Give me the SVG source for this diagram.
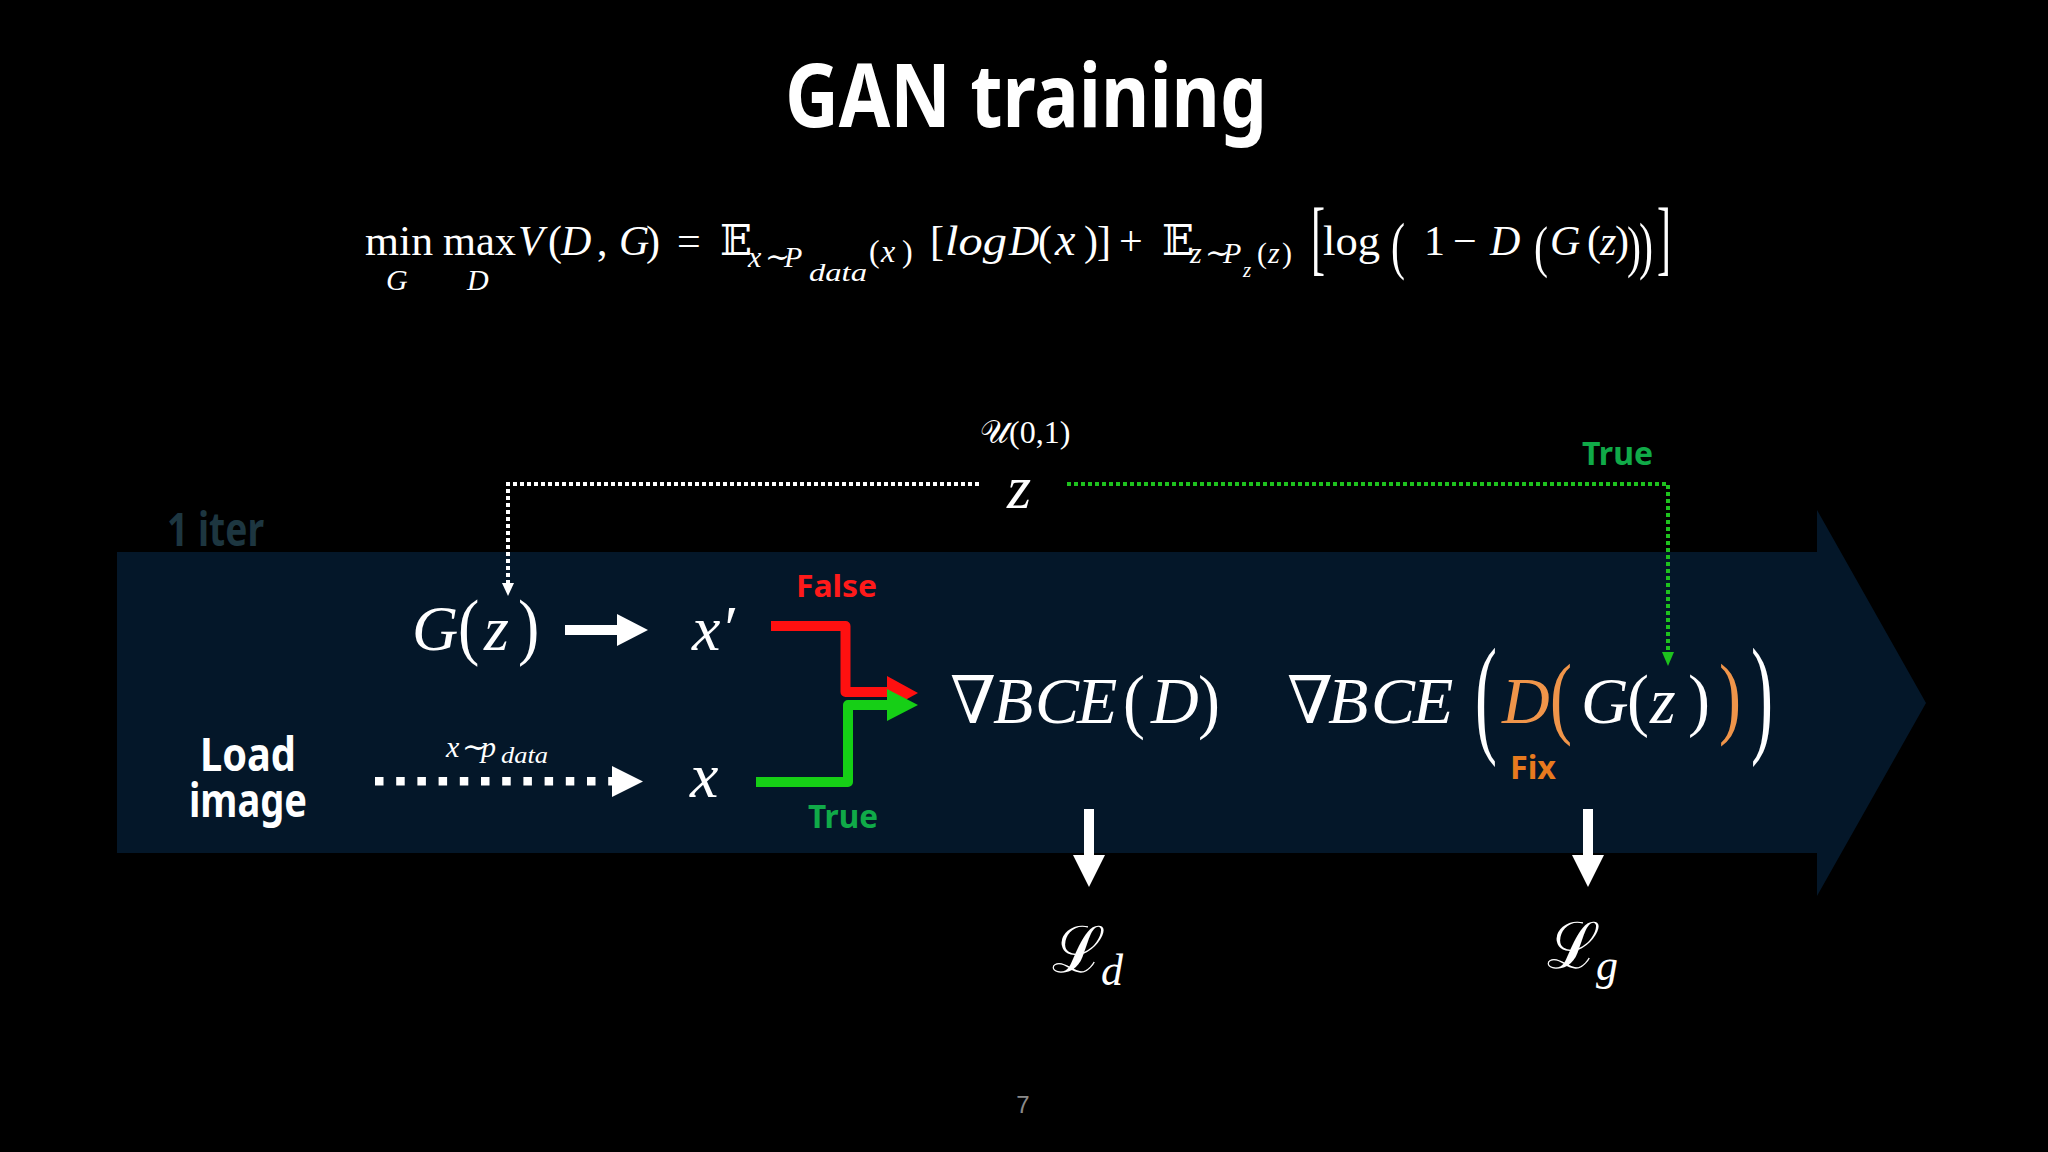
<svg xmlns="http://www.w3.org/2000/svg" width="2048" height="1152" viewBox="0 0 2048 1152">
  <style>
    .m { font-family: "Liberation Serif", "DejaVu Serif", serif; fill: #ffffff; }
    .i { font-style: italic; }
    .lbl { font-family: "Noto Sans", "Liberation Sans", sans-serif; font-weight: 700; }
    .org { fill: #f0954a; }
    .dotw { fill: none; stroke: #ffffff; stroke-width: 4; stroke-dasharray: 4 3; }
    .dotg { fill: none; stroke: #1ec21e; stroke-width: 4; stroke-dasharray: 4 3; }
  </style>
  <rect x="0" y="0" width="2048" height="1152" fill="#000000"/>

  <g id="title">
    <text class="lbl" x="785" y="127" font-size="88" fill="#ffffff" textLength="482" lengthAdjust="spacingAndGlyphs">GAN training</text>
  </g>

  <g id="equation" class="m" font-size="42">
    <text x="365" y="255" textLength="68" lengthAdjust="spacingAndGlyphs">min</text>
    <text x="443" y="255" textLength="73" lengthAdjust="spacingAndGlyphs">max</text>
    <text class="i" x="386" y="290" font-size="30">G</text>
    <text class="i" x="467" y="290" font-size="30">D</text>
    <text y="255"><tspan class="i" x="518">V</tspan><tspan x="548">(</tspan><tspan class="i" x="561">D</tspan><tspan x="597">,</tspan><tspan class="i" x="619">G</tspan><tspan x="646">)</tspan></text>
    <text x="677" y="255">=</text>
    <text x="720" y="255">𝔼</text>
    <text y="267" font-size="30"><tspan class="i" x="748">x</tspan><tspan x="765">∼</tspan><tspan class="i" x="784">P</tspan></text>
    <text class="i" x="809" y="281" font-size="25" textLength="58" lengthAdjust="spacingAndGlyphs">data</text>
    <text y="262" font-size="32"><tspan x="869">(</tspan><tspan class="i" x="881">x</tspan><tspan x="902">)</tspan></text>
    <text y="255"><tspan x="930">[</tspan></text>
    <text class="i" x="945" y="255" textLength="62" lengthAdjust="spacingAndGlyphs">log</text>
    <text y="255"><tspan class="i" x="1009">D</tspan><tspan x="1038">(</tspan></text>
    <text class="i" x="1055" y="255" font-size="46">x</text>
    <text y="255"><tspan x="1084">)</tspan><tspan x="1097">]</tspan></text>
    <text x="1119" y="255">+</text>
    <text x="1162" y="255">𝔼</text>
    <text y="263" font-size="30"><tspan class="i" x="1190">z</tspan><tspan x="1205">∼</tspan><tspan class="i" x="1223">P</tspan></text>
    <text class="i" x="1243" y="277" font-size="21">z</text>
    <text y="263" font-size="30"><tspan x="1257">(</tspan><tspan class="i" x="1268">z</tspan><tspan x="1282">)</tspan></text>
    <text transform="translate(1311,265) scale(1,1.94)">[</text>
    <text x="1323" y="255" textLength="57" lengthAdjust="spacingAndGlyphs">log</text>
    <text transform="translate(1391,267) scale(1,1.5)">(</text>
    <text x="1424" y="255">1</text>
    <text x="1453" y="255">−</text>
    <text class="i" x="1490" y="255">D</text>
    <text transform="translate(1534,266) scale(1,1.35)">(</text>
    <text class="i" x="1550" y="255">G</text>
    <text x="1587" y="255">(</text>
    <text class="i" x="1600" y="255">z</text>
    <text x="1615" y="255">)</text>
    <text transform="translate(1627,266) scale(1,1.35)">)</text>
    <text transform="translate(1639,267) scale(1,1.5)">)</text>
    <text transform="translate(1657,265) scale(1,1.94)">]</text>
  </g>

  <g id="iteration-arrow">
    <polygon points="117,552 1817,552 1817,510 1926,703 1817,896 1817,853 117,853" fill="#041729"/>
    <text class="lbl" x="167" y="546" font-size="46" fill="#1d3640" textLength="97" lengthAdjust="spacingAndGlyphs">1 iter</text>
  </g>

  <g id="node-noise" class="m">
    <text x="980" y="443" font-size="32">𝒰(0,1)</text>
    <text class="i" x="1007" y="508" font-size="62">z</text>
  </g>

  <g id="node-generator" class="m" font-size="64">
    <text class="i" x="412" y="650">G</text>
    <text transform="translate(458,651) scale(1,1.15)">(</text>
    <text class="i" x="484" y="650">z</text>
    <text transform="translate(518,651) scale(1,1.15)">)</text>
  </g>

  <g id="node-fake" class="m">
    <text class="i" x="692" y="650" font-size="64">x′</text>
  </g>

  <g id="node-load">
    <text class="lbl" x="248" y="771" font-size="46" fill="#ffffff" text-anchor="middle" textLength="96" lengthAdjust="spacingAndGlyphs">Load</text>
    <text class="lbl" x="248" y="817" font-size="46" fill="#ffffff" text-anchor="middle" textLength="118" lengthAdjust="spacingAndGlyphs">image</text>
  </g>

  <g id="node-real" class="m">
    <text class="i" x="690" y="797" font-size="64">x</text>
  </g>

  <g id="node-loss-d" class="m" font-size="66">
    <text x="950" y="723">∇</text>
    <text class="i" x="993" y="723">B</text>
    <text class="i" x="1035" y="723">C</text>
    <text class="i" x="1077" y="723">E</text>
    <text transform="translate(1123,725) scale(1,1.1)">(</text>
    <text class="i" x="1151" y="723">D</text>
    <text transform="translate(1198,725) scale(1,1.1)">)</text>
  </g>

  <g id="node-loss-g" class="m" font-size="66">
    <text x="1287" y="723">∇</text>
    <text class="i" x="1328" y="723">B</text>
    <text class="i" x="1371" y="723">C</text>
    <text class="i" x="1413" y="723">E</text>
    <text transform="translate(1475,739) scale(1,2)">(</text>
    <text class="i org" x="1502" y="723">D</text>
    <text class="org" transform="translate(1550,727) scale(1,1.38)">(</text>
    <text class="i" x="1581" y="723">G</text>
    <text transform="translate(1627,723) scale(1,1.07)">(</text>
    <text class="i" x="1650" y="723">z</text>
    <text transform="translate(1688,723) scale(1,1.07)">)</text>
    <text class="org" transform="translate(1719,727) scale(1,1.38)">)</text>
    <text transform="translate(1751,739) scale(1,2)">)</text>
    <text class="lbl" x="1510" y="779" font-size="32" fill="#e87a1e" textLength="46" lengthAdjust="spacingAndGlyphs">Fix</text>
  </g>

  <g id="node-Ld" class="m">
    <text x="1052" y="972" font-size="64">ℒ</text>
    <text class="i" x="1101" y="985" font-size="44">d</text>
  </g>

  <g id="node-Lg" class="m">
    <text x="1547" y="968" font-size="64">ℒ</text>
    <text class="i" x="1596" y="980" font-size="44">g</text>
  </g>

  <g id="connectors">
    <path class="dotw" d="M979,484 H508 V584"/>
    <polygon points="502,583 514,583 508,596" fill="#ffffff"/>
    <path class="dotg" d="M1067,484 H1668 V653"/>
    <polygon points="1662,652 1674,652 1668,666" fill="#1ec21e"/>
    <rect x="565" y="625" width="54" height="10" fill="#ffffff"/>
    <polygon points="617,614 648,630 617,646" fill="#ffffff"/>
    <g fill="#ffffff">
      <rect x="375" y="777" width="8.5" height="8.5"/>
      <rect x="396.2" y="777" width="8.5" height="8.5"/>
      <rect x="417.4" y="777" width="8.5" height="8.5"/>
      <rect x="438.6" y="777" width="8.5" height="8.5"/>
      <rect x="459.8" y="777" width="8.5" height="8.5"/>
      <rect x="481" y="777" width="8.5" height="8.5"/>
      <rect x="502.2" y="777" width="8.5" height="8.5"/>
      <rect x="523.4" y="777" width="8.5" height="8.5"/>
      <rect x="544.6" y="777" width="8.5" height="8.5"/>
      <rect x="565.8" y="777" width="8.5" height="8.5"/>
      <rect x="587" y="777" width="8.5" height="8.5"/>
      <rect x="608.2" y="777" width="8.5" height="8.5"/>
      <polygon points="612,766 643,781.5 612,797"/>
    </g>
    <g class="m">
      <text class="i" x="446" y="757" font-size="30">x</text>
      <text x="462" y="757" font-size="30">∼</text>
      <text class="i" x="481" y="757" font-size="30">p</text>
      <text class="i" x="501" y="763" font-size="24" textLength="47" lengthAdjust="spacingAndGlyphs">data</text>
    </g>
    <path d="M771,626 H845.5 V692 H890" fill="none" stroke="#ff1010" stroke-width="10" stroke-linejoin="round"/>
    <polygon points="887,676 918,693 887,710" fill="#ff1010"/>
    <text class="lbl" x="796" y="597" font-size="30" fill="#ff1a1a" textLength="81" lengthAdjust="spacingAndGlyphs">False</text>
    <path d="M756,782 H848 V705 H890" fill="none" stroke="#16cf16" stroke-width="10" stroke-linejoin="round"/>
    <polygon points="887,689 918,705 887,721" fill="#16cf16"/>
    <text class="lbl" x="808" y="828" font-size="32" fill="#10aa48" textLength="70" lengthAdjust="spacingAndGlyphs">True</text>
    <text class="lbl" x="1582" y="465" font-size="32" fill="#10aa48" textLength="71" lengthAdjust="spacingAndGlyphs">True</text>
    <rect x="1084" y="809" width="10" height="47" fill="#ffffff"/>
    <polygon points="1073,855 1105,855 1089,887" fill="#ffffff"/>
    <rect x="1583" y="809" width="10" height="47" fill="#ffffff"/>
    <polygon points="1572,855 1604,855 1588,887" fill="#ffffff"/>
  </g>

  <g id="page-number">
    <text x="1023" y="1113" font-family="Liberation Sans, sans-serif" font-size="24" fill="#8a8a8a" text-anchor="middle">7</text>
  </g>
</svg>
